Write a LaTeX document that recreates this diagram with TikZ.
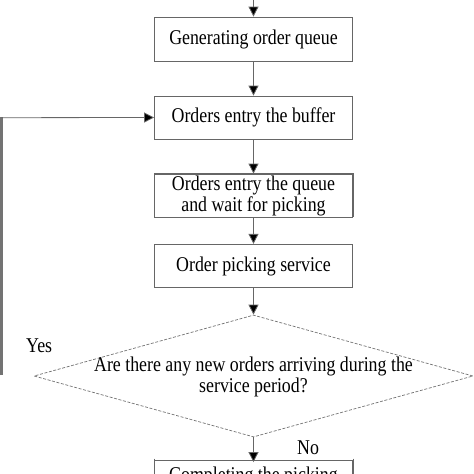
\documentclass[tikz,border=0pt]{standalone}
\usepackage{fontspec}
\setmainfont{Liberation Serif}
\newfontfamily\figfont[FakeStretch=0.85]{Liberation Serif}
\usetikzlibrary{arrows.meta,shapes.geometric}
\begin{document}
\begin{tikzpicture}[x=1pt,y=-1pt,
  line/.style={draw=black!60, line width=0.8pt},
  arr/.style={line, -{Triangle[width=10pt,length=10pt,fill=black]}},
  procbox/.style={line, minimum width=198pt, inner sep=0pt, align=center,
     font=\figfont\fontsize{21}{21}\selectfont},
  txt/.style={inner sep=0pt, align=center, font=\figfont\fontsize{21}{21}\selectfont}]
\useasboundingbox (0,0) rectangle (474,474);
\clip (0,0) rectangle (474,474);
\coordinate (start) at (253.5,0);
\node[procbox, draw, minimum height=44pt] (b1) at (253.5,39) {Generating order queue};
\node[procbox, draw, minimum height=43pt] (b2) at (253.5,117.5) {Orders entry the buffer};
\node[procbox, minimum height=43pt] (b3) at (253.5,195.5) {Orders entry the queue\\and wait for picking};
\draw[line] (b3.south west) -- (b3.north west) -- (b3.north east) -- (b3.south east);
\node[procbox, draw, minimum height=43.5pt] (b4) at (253.5,266) {Order picking service};
\node[diamond, draw=black!55, dashed, dash pattern=on 3pt off 1.6pt, line width=0.7pt,
      minimum width=439pt, minimum height=122pt, inner sep=0pt] (d) at (253.5,376) {};
\node[txt] (dt) at (253.5,376.5) {Are there any new orders arriving during the\\service period?};
\node[procbox, minimum height=43pt] (b5) at (253.5,482) {};
\node[txt, anchor=base] (b5t) at (253.5,481) {Completing the picking};
\draw[line] (b5.north west) ++(0,-1.5) -- (b5.south west);
\draw[line] (b5.north east) ++(0,-1.5) -- (b5.south east);
\draw[arr] (start) -- (b1.north);
\draw[arr] (b1.south) -- (b2.north);
\draw[arr] (b2.south) -- (b3.north);
\draw[arr] (b3.south) ++(0,1) -- (b4.north);
\draw[arr] (b4.south) -- (d.north);
\draw[arr] (d.south) -- ([yshift=-2pt]b5.north);
\coordinate (yesend) at (1.5,375);
\coordinate (corner) at (1.5,117.7);
\draw[draw=black!55, line width=2.6pt] (yesend) -- ([yshift=0.9pt]corner);
\draw[arr] (corner) -- (b2.west);
\node[txt, anchor=base west] (yes) at (26,352) {Yes};
\node[txt, anchor=base west] (no) at (297,454) {No};
\end{tikzpicture}
\end{document}
